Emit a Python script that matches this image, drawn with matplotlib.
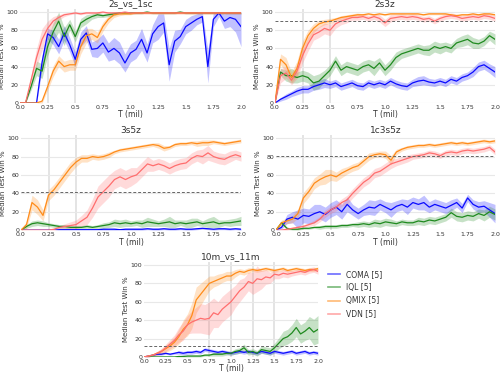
import numpy as np
import matplotlib
matplotlib.use('Agg')
import matplotlib.pyplot as plt
from matplotlib.lines import Line2D

# Training time axis (millions of steps)
T = np.linspace(0, 2, 41)

maps = ['2s_vs_1sc', '2s3z', '3s5z', '1c3s5z', '10m_vs_11m']
heuristic = [0, 90, 42, 81, 12]
algos = ['COMA', 'IQL', 'QMIX', 'VDN']

# ---- 2s_vs_1sc ----
coma_p1 = [0, 0, 0, 0, 45, 76, 72, 62, 77, 64, 48, 70, 77, 59, 60, 66, 56, 60, 55, 44, 55,
           59, 70, 55, 76, 84, 88, 42, 68, 73, 84, 88, 92, 95, 40, 92, 99, 90, 94, 92, 84]
coma_p1_band = [0, 0, 0, 0, 8, 6, 8, 8, 8, 8, 8, 8, 8, 8, 10, 10, 10, 12, 12, 10, 10,
                10, 12, 10, 10, 14, 10, 18, 12, 8, 8, 8, 6, 6, 18, 8, 4, 8, 10, 14, 22]
iql_p1 = [0, 0, 18, 38, 35, 62, 78, 90, 73, 86, 73, 88, 92, 95, 97, 96, 97, 98, 99, 99, 99,
          99, 99, 100, 99, 99, 99, 99, 99, 100, 99, 99, 99, 99, 99, 99, 99, 99, 99, 99, 99]
iql_p1_band = [0, 0, 4, 8, 8, 10, 10, 12, 10, 6, 6, 5, 5, 3, 3, 2, 2, 2, 1, 1, 1,
               1, 1, 1, 1, 1, 1, 1, 1, 1, 1, 1, 1, 1, 1, 1, 1, 1, 1, 1, 1]
qmix_p1 = [0, 0, 0, 0, 2, 18, 35, 46, 40, 42, 42, 62, 74, 76, 72, 84, 92, 97, 98, 98, 98,
           99, 99, 99, 99, 99, 99, 99, 99, 99, 99, 99, 99, 99, 99, 99, 99, 99, 99, 99, 99]
qmix_p1_band = [0, 0, 0, 0, 2, 4, 6, 6, 6, 6, 6, 8, 8, 6, 6, 5, 4, 3, 2, 1, 1,
                1, 1, 1, 1, 1, 1, 1, 1, 1, 1, 1, 1, 1, 1, 1, 1, 1, 1, 1, 1]
vdn_p1 = [0, 0, 25, 50, 70, 82, 90, 94, 97, 98, 99, 98, 99, 99, 99, 100, 99, 99, 99, 100, 99,
          99, 99, 99, 99, 99, 99, 99, 99, 99, 99, 99, 99, 99, 99, 99, 99, 99, 99, 99, 99]
vdn_p1_band = [0, 0, 6, 10, 12, 8, 5, 3, 2, 1, 1, 1, 1, 1, 1, 1, 1, 1, 1, 1, 1,
               1, 1, 1, 1, 1, 1, 1, 1, 1, 1, 1, 1, 1, 1, 1, 1, 1, 1, 1, 1]

# ---- 2s3z ----
coma_p2 = [0, 4, 7, 10, 13, 15, 15, 18, 20, 22, 20, 22, 18, 20, 22, 19, 18, 22, 20, 22, 20,
           24, 21, 19, 18, 22, 24, 25, 23, 22, 24, 22, 26, 24, 28, 30, 34, 40, 42, 38, 34]
coma_p2_band = [0, 2, 3, 3, 4, 4, 4, 4, 5, 5, 4, 4, 4, 4, 4, 4, 4, 4, 4, 4, 4,
                4, 4, 4, 4, 4, 5, 5, 4, 4, 4, 4, 4, 4, 4, 4, 5, 5, 5, 5, 6]
iql_p2 = [0, 34, 30, 30, 28, 30, 28, 22, 24, 30, 36, 46, 36, 40, 38, 36, 40, 42, 38, 44, 36,
          42, 50, 54, 56, 58, 60, 58, 58, 62, 60, 62, 60, 66, 68, 70, 66, 65, 68, 74, 70]
iql_p2_band = [0, 4, 6, 8, 6, 6, 6, 8, 8, 6, 6, 6, 6, 6, 6, 6, 6, 6, 8, 6, 6,
               6, 6, 5, 5, 5, 5, 5, 6, 6, 6, 5, 5, 5, 6, 6, 6, 5, 5, 5, 6]
qmix_p2 = [0, 48, 42, 28, 38, 60, 74, 82, 87, 89, 90, 92, 94, 95, 96, 97, 97, 98, 97, 98, 97,
           98, 98, 98, 98, 98, 98, 97, 98, 98, 98, 98, 97, 96, 97, 97, 98, 97, 98, 98, 97]
qmix_p2_band = [0, 6, 8, 6, 8, 8, 6, 5, 4, 3, 3, 2, 2, 2, 2, 2, 1, 1, 1, 1, 1,
                1, 1, 1, 1, 1, 1, 1, 1, 1, 1, 1, 1, 1, 1, 1, 1, 1, 1, 1, 1]
vdn_p2 = [0, 30, 33, 25, 35, 52, 65, 75, 78, 82, 80, 87, 90, 92, 94, 94, 95, 93, 95, 93, 88,
          93, 94, 95, 94, 95, 94, 92, 93, 90, 93, 95, 96, 95, 93, 94, 95, 94, 96, 95, 93]
vdn_p2_band = [0, 8, 6, 5, 8, 8, 8, 6, 6, 6, 6, 5, 4, 4, 3, 3, 3, 3, 3, 4, 4,
               4, 3, 3, 3, 3, 3, 3, 3, 3, 3, 3, 3, 3, 3, 3, 3, 3, 3, 3, 3]

# ---- 3s5z ----
coma_p3 = [0, 0, 0, 0, 0, 0, 0, 0.5, 0.5, 0.5, 0.5, 0.5, 0.5, 0.5, 0.5, 1, 1, 1, 0.5, 1, 1,
           1, 1, 1.5, 1, 1, 1.5, 1, 1, 1.5, 1, 1, 1.5, 2, 1.5, 1, 1.5, 1.5, 1, 1.5, 1]
coma_p3_band = [0, 0, 0, 0, 0, 0, 0, 0.5, 0.5, 0.5, 0.5, 0.5, 0.5, 0.5, 0.5, 1, 1, 1, 1, 1, 1,
                1, 1, 1, 1, 1, 1, 1, 1, 1, 1, 1, 1, 1, 1, 1, 1, 1, 1, 1, 1]
iql_p3 = [0, 4, 7, 8, 7, 6, 5, 4, 4, 3, 3, 3, 4, 3, 4, 5, 6, 8, 7, 8, 7,
          8, 7, 9, 8, 7, 8, 9, 7, 8, 7, 8, 9, 7, 8, 9, 7, 8, 8, 9, 10]
iql_p3_band = [0, 2, 3, 3, 3, 2, 2, 2, 2, 2, 2, 2, 2, 2, 2, 3, 3, 4, 4, 4, 3,
               3, 4, 5, 4, 3, 4, 6, 4, 3, 4, 5, 4, 3, 5, 6, 4, 3, 4, 4, 5]
qmix_p3 = [0, 6, 30, 25, 16, 38, 44, 52, 60, 68, 74, 78, 78, 80, 79, 80, 82, 85, 87, 88, 89,
           90, 91, 92, 93, 92, 89, 90, 93, 94, 94, 95, 94, 95, 95, 96, 95, 94, 95, 96, 97]
qmix_p3_band = [0, 4, 8, 8, 6, 6, 6, 6, 6, 6, 5, 4, 4, 3, 3, 3, 3, 2, 2, 2, 2,
                2, 2, 2, 2, 3, 3, 2, 2, 2, 2, 2, 3, 3, 3, 2, 2, 2, 2, 2, 2]
vdn_p3 = [0, 0, 0, 0, 0, 0, 1, 3, 4, 5, 6, 10, 14, 24, 36, 42, 48, 55, 58, 55, 58,
          60, 66, 72, 70, 72, 70, 67, 70, 72, 73, 78, 81, 80, 84, 80, 78, 77, 80, 82, 80]
vdn_p3_band = [1, 1, 1, 1, 1, 1, 1, 2, 3, 4, 5, 6, 8, 10, 12, 12, 12, 10, 10, 10, 10,
               8, 8, 8, 6, 6, 6, 6, 6, 6, 6, 6, 6, 8, 8, 6, 6, 6, 6, 5, 5]

# ---- 1c3s5z ----
coma_p4 = [0, 3, 12, 14, 12, 16, 15, 18, 20, 17, 22, 25, 20, 28, 22, 18, 22, 25, 24, 28, 25,
           22, 26, 28, 25, 30, 28, 30, 25, 28, 26, 24, 27, 30, 24, 35, 28, 25, 26, 22, 18]
coma_p4_band = [0, 2, 5, 6, 10, 8, 8, 10, 8, 8, 8, 8, 8, 8, 6, 6, 6, 8, 8, 6, 6,
                8, 6, 6, 8, 6, 6, 8, 6, 6, 6, 6, 6, 5, 5, 4, 5, 6, 6, 8, 10]
iql_p4 = [0, 8, 2, 1, 1, 2, 2, 3, 3, 4, 4, 4, 5, 5, 6, 6, 7, 6, 8, 7, 9,
          8, 7, 9, 8, 8, 10, 9, 11, 10, 12, 14, 19, 15, 14, 16, 15, 18, 16, 20, 17]
iql_p4_band = [0, 2, 1, 1, 1, 1, 1, 1, 2, 2, 2, 2, 2, 2, 2, 3, 3, 3, 4, 4, 4,
               4, 3, 3, 3, 3, 4, 4, 4, 4, 4, 4, 5, 5, 5, 5, 5, 5, 6, 6, 6]
qmix_p4 = [0, 8, 10, 12, 18, 35, 42, 51, 55, 58, 60, 58, 62, 65, 68, 70, 75, 80, 82, 83, 82,
           76, 85, 88, 90, 91, 92, 92, 93, 92, 93, 94, 95, 94, 95, 94, 95, 96, 97, 96, 97]
qmix_p4_band = [0, 3, 3, 4, 5, 6, 6, 6, 6, 8, 6, 5, 5, 4, 4, 4, 4, 4, 3, 3, 4,
                5, 3, 2, 2, 2, 2, 2, 2, 2, 2, 2, 2, 2, 2, 2, 2, 2, 2, 2, 2]
vdn_p4 = [0, 0, 1, 2, 3, 4, 6, 8, 12, 18, 22, 25, 30, 33, 40, 46, 52, 56, 62, 64, 68,
          72, 74, 76, 78, 80, 81, 82, 84, 83, 81, 84, 85, 84, 86, 87, 86, 87, 88, 90, 85]
vdn_p4_band = [0, 1, 1, 1, 2, 2, 2, 3, 3, 4, 4, 4, 4, 5, 5, 5, 5, 5, 5, 5, 5,
               5, 4, 4, 4, 3, 3, 3, 3, 3, 3, 3, 3, 3, 3, 3, 3, 3, 3, 3, 3]

# ---- 10m_vs_11m ----
coma_p5 = [0, 1, 2, 3, 3, 4, 3, 4, 5, 4, 5, 5, 6, 5, 8, 7, 6, 5, 6, 5, 4,
           5, 6, 5, 6, 5, 4, 6, 5, 4, 6, 5, 4, 5, 6, 4, 5, 6, 4, 5, 4]
coma_p5_band = [0, 1, 1, 1, 1, 1, 1, 1, 2, 2, 2, 2, 2, 2, 2, 2, 2, 2, 2, 2, 2,
                2, 2, 2, 2, 2, 2, 2, 2, 2, 2, 2, 2, 2, 2, 2, 2, 2, 2, 2, 2]
iql_p5 = [0, 0, 0, 0, 0, 0, 0, 0, 0.5, 0.5, 1, 1, 1, 1, 2, 2, 3, 3, 3, 4, 4,
          6, 7, 10, 5, 6, 4, 8, 7, 6, 10, 15, 20, 22, 26, 32, 25, 28, 32, 27, 30]
iql_p5_band = [0, 0, 0, 0, 0, 0, 0, 0, 0.5, 0.5, 1, 1, 1, 1, 1, 1, 2, 2, 2, 2, 2,
               3, 3, 4, 3, 3, 3, 4, 4, 4, 5, 6, 8, 8, 9, 10, 10, 10, 12, 14, 15]
qmix_p5 = [0, 1, 2, 4, 6, 9, 12, 16, 22, 30, 35, 45, 62, 68, 74, 80, 82, 84, 86, 88, 88,
           91, 93, 92, 94, 95, 94, 95, 96, 95, 94, 95, 96, 94, 95, 96, 95, 94, 95, 95, 96]
qmix_p5_band = [0, 1, 1, 2, 3, 4, 5, 6, 8, 10, 12, 14, 14, 12, 10, 8, 6, 6, 5, 5, 5,
                4, 3, 3, 3, 2, 2, 2, 2, 2, 2, 2, 2, 2, 2, 2, 2, 2, 2, 2, 2]
vdn_p5 = [0, 1, 2, 4, 6, 10, 14, 18, 24, 28, 35, 38, 40, 42, 41, 42, 48, 46, 52, 56, 60,
          66, 72, 76, 82, 80, 85, 84, 87, 86, 90, 89, 91, 90, 91, 92, 93, 92, 94, 95, 93]
vdn_p5_band = [0, 1, 1, 2, 3, 4, 5, 6, 8, 10, 10, 12, 14, 16, 16, 18, 16, 14, 14, 14, 14,
               12, 12, 10, 10, 12, 14, 10, 8, 6, 5, 4, 4, 4, 3, 3, 3, 3, 3, 3, 3]

panel_data = [
    [(coma_p1, coma_p1_band), (iql_p1, iql_p1_band), (qmix_p1, qmix_p1_band), (vdn_p1, vdn_p1_band)],
    [(coma_p2, coma_p2_band), (iql_p2, iql_p2_band), (qmix_p2, qmix_p2_band), (vdn_p2, vdn_p2_band)],
    [(coma_p3, coma_p3_band), (iql_p3, iql_p3_band), (qmix_p3, qmix_p3_band), (vdn_p3, vdn_p3_band)],
    [(coma_p4, coma_p4_band), (iql_p4, iql_p4_band), (qmix_p4, qmix_p4_band), (vdn_p4, vdn_p4_band)],
    [(coma_p5, coma_p5_band), (iql_p5, iql_p5_band), (qmix_p5, qmix_p5_band), (vdn_p5, vdn_p5_band)],
]

colors = {'COMA': '#0a0aff', 'IQL': '#1f8a1f', 'QMIX': '#ff8c1a', 'VDN': '#ff6e6e'}

# axes rectangles in figure fraction [left, bottom, width, height]
rects = [
    [0.040, 0.724, 0.442, 0.251],
    [0.550, 0.724, 0.440, 0.251],
    [0.042, 0.383, 0.440, 0.254],
    [0.552, 0.383, 0.438, 0.254],
    [0.288, 0.043, 0.348, 0.254],
]
vgrid = [[0.25, 0.5], [0.25, 0.5], [0.25, 0.5], [0.25, 0.5], [0.75, 1.0, 1.25, 1.5]]

fig = plt.figure(figsize=(5.0, 3.73), dpi=100)

for i, name in enumerate(maps):
    ax = fig.add_axes(rects[i])
    for algo, (med, band) in zip(algos, panel_data[i]):
        assert len(med) == 41 and len(band) == 41, (name, algo)
        med = np.array(med, dtype=float)
        band = np.array(band, dtype=float)
        c = colors[algo]
        ax.fill_between(T, np.clip(med - band, 0, 100), np.clip(med + band, 0, 100),
                        color=c, alpha=0.25, lw=0, zorder=2)
        ax.plot(T, med, color=c, lw=0.9, zorder=3)

    ax.axhline(heuristic[i], color='#666666', ls='--', lw=0.7, dashes=(3, 2), zorder=4)
    for xv in vgrid[i]:
        ax.axvline(xv, color='#e2e2e2', lw=1.3, zorder=0)

    ax.set_xlim(0, 2.0)
    ax.set_ylim(0, 103)
    ax.set_xticks([0, 0.25, 0.5, 0.75, 1.0, 1.25, 1.5, 1.75, 2.0])
    ax.set_xticklabels(['0.0', '0.25', '0.5', '0.75', '1.0', '1.25', '1.5', '1.75', '2.0'])
    ax.set_yticks([0, 20, 40, 60, 80, 100])
    ax.yaxis.grid(True, color='#e8e8e8', lw=0.8, zorder=0)
    ax.set_axisbelow(True)
    ax.tick_params(length=0, labelsize=4.5, pad=1.2, colors='#333333')
    for s in ax.spines.values():
        s.set_visible(False)
    ax.set_title(name, fontsize=6.5, pad=2, color='#333333')
    ax.set_xlabel('T (mil)', fontsize=5.5, labelpad=0.5, color='#333333')
    ax.set_ylabel('Median Test Win %', fontsize=5, labelpad=1, color='#333333')

handles = [Line2D([0], [0], color=colors[a], lw=1.2, alpha=0.6) for a in algos]
fig.legend(handles, [a + ' [5]' for a in algos], loc='upper left',
           bbox_to_anchor=(0.642, 0.295), frameon=False, fontsize=5.5,
           handlelength=1.6, handletextpad=0.8, labelspacing=0.55, labelcolor='#333333')

plt.savefig('out.png', dpi=100)
plt.close()
